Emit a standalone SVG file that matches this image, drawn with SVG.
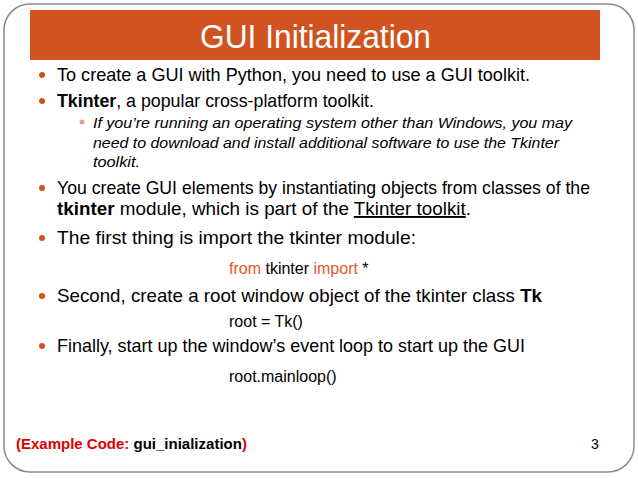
<svg xmlns="http://www.w3.org/2000/svg" width="638" height="478" viewBox="0 0 638 478">
<style>
text{font-family:"Liberation Sans",Arial,sans-serif;fill:#000}
.b{font-size:19px}
.c{font-size:16px}
.s{font-size:15.5px;font-style:italic}
.o{fill:#E8562A}
.r{fill:#E00000;font-weight:bold}
</style>
<rect width="638" height="478" fill="#fff"/>
<rect x="4" y="4" width="630" height="468" rx="26" fill="none" stroke="#8a8a8a" stroke-width="1.5"/>
<g id="title">
<rect x="30" y="10" width="570" height="50" fill="#D1531F"/>
<text x="200" y="48" font-size="33" textLength="231" lengthAdjust="spacingAndGlyphs" style="fill:#fff">GUI Initialization</text>
</g>
<g id="body">
<g fill="#D1531F"><circle cx="42" cy="75" r="3"/><circle cx="42" cy="101" r="3"/><circle cx="42" cy="188" r="3"/><circle cx="42" cy="238" r="3"/><circle cx="42" cy="296" r="3"/><circle cx="42" cy="346" r="3"/></g>
<circle cx="82" cy="122" r="2.5" fill="#E8A08A"/>
<text class="b" x="57" y="81" textLength="473" lengthAdjust="spacingAndGlyphs">To create a GUI with Python, you need to use a GUI toolkit.</text>
<text class="b" x="57" y="107" textLength="317" lengthAdjust="spacingAndGlyphs"><tspan font-weight="bold">Tkinter</tspan>, a popular cross-platform toolkit.</text>
<text class="s" x="93" y="128" textLength="479" lengthAdjust="spacingAndGlyphs">If you’re running an operating system other than Windows, you may</text>
<text class="s" x="93" y="148" textLength="466" lengthAdjust="spacingAndGlyphs">need to download and install additional software to use the Tkinter</text>
<text class="s" x="93" y="167" textLength="47" lengthAdjust="spacingAndGlyphs">toolkit.</text>
<text class="b" x="57" y="194" textLength="533" lengthAdjust="spacingAndGlyphs">You create GUI elements by instantiating objects from classes of the</text>
<text class="b" x="57" y="215" textLength="414" lengthAdjust="spacingAndGlyphs"><tspan font-weight="bold">tkinter</tspan> module, which is part of the <tspan text-decoration="underline">Tkinter toolkit</tspan>.</text>
<text class="b" x="57" y="244" textLength="359" lengthAdjust="spacingAndGlyphs">The first thing is import the tkinter module:</text>
<text class="c" x="229" y="274"><tspan class="o">from</tspan> tkinter <tspan class="o">import</tspan> *</text>
<text class="b" x="57" y="302" textLength="485" lengthAdjust="spacingAndGlyphs">Second, create a root window object of the tkinter class <tspan font-weight="bold">Tk</tspan></text>
<text class="c" x="229" y="327">root = Tk()</text>
<text class="b" x="57" y="352" textLength="468" lengthAdjust="spacingAndGlyphs">Finally, start up the window’s event loop to start up the GUI</text>
<text class="c" x="229" y="382">root.mainloop()</text>
<text x="16" y="449" font-size="15" font-weight="bold"><tspan class="r">(Example Code: </tspan>gui_inialization<tspan class="r">)</tspan></text>
<text x="591" y="449" font-size="14" font-family="Open Sans">3</text>
</g>
</svg>
